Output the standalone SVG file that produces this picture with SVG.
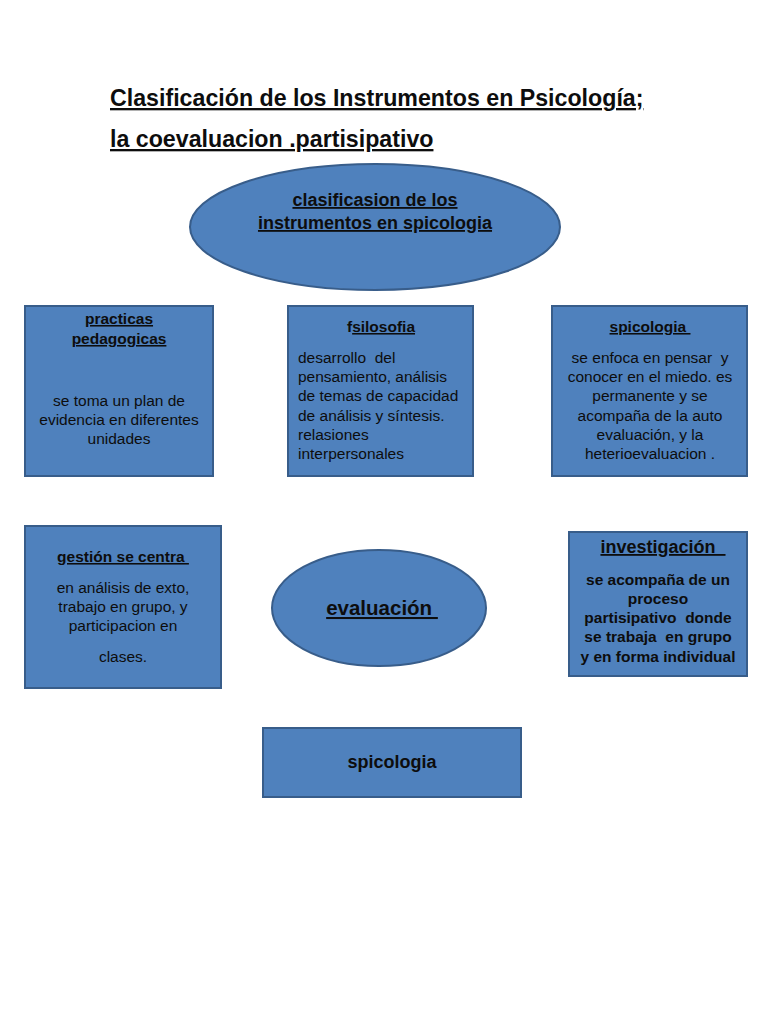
<svg xmlns="http://www.w3.org/2000/svg" width="768" height="1024" viewBox="0 0 768 1024">
<style>
  .shape { fill: #4f81bd; stroke: #385d8a; stroke-width: 2; }
  text { font-family: "Liberation Sans", Arial, sans-serif; fill: #0d0d0d; }
  .b { font-weight: bold; }
  .u { text-decoration: underline; }
  .c { text-anchor: middle; }
  .t15 { font-size: 15.5px; }
  .pre { white-space: pre; }
</style>
<rect width="768" height="1024" fill="#ffffff"/>
<g id="title">
  <text x="110" y="106" class="b u" font-size="23.2">Clasificación de los Instrumentos en Psicología;</text>
  <text x="110" y="147" class="b u" font-size="23.2">la coevaluacion .partisipativo</text>
</g>
<g id="node-clasificasion">
  <ellipse class="shape" cx="375" cy="227" rx="185" ry="63"/>
  <text x="375" y="206" class="b u c" font-size="18">clasificasion de los</text>
  <text x="375" y="229" class="b u c" font-size="18">instrumentos en spicologia</text>
</g>
<g id="node-practicas">
  <rect class="shape" x="25" y="306" width="188" height="170"/>
  <text x="119" y="324" class="b u c t15">practicas</text>
  <text x="119" y="344" class="b u c t15">pedagogicas</text>
  <text x="119" y="406" class="c t15">se toma un plan de</text>
  <text x="119" y="425" class="c t15">evidencia en diferentes</text>
  <text x="119" y="444" class="c t15">unidades</text>
</g>
<g id="node-fsilosofia">
  <rect class="shape" x="288" y="306" width="185" height="170"/>
  <text x="381" y="332" class="b c t15">f<tspan class="u">silosofia</tspan></text>
  <text x="298" y="363" class="t15 pre">desarrollo  del</text>
  <text x="298" y="382" class="t15">pensamiento, análisis</text>
  <text x="298" y="401" class="t15">de temas de capacidad</text>
  <text x="298" y="421" class="t15">de análisis y síntesis.</text>
  <text x="298" y="440" class="t15">relasiones</text>
  <text x="298" y="459" class="t15">interpersonales</text>
</g>
<g id="node-spicologia-top">
  <rect class="shape" x="552" y="306" width="195" height="170"/>
  <text x="650" y="332" class="b u c t15 pre">spicologia </text>
  <text x="650" y="363" class="c t15 pre">se enfoca en pensar  y</text>
  <text x="650" y="382" class="c t15">conocer en el miedo. es</text>
  <text x="650" y="401" class="c t15">permanente y se</text>
  <text x="650" y="421" class="c t15">acompaña de la auto</text>
  <text x="650" y="440" class="c t15">evaluación, y la</text>
  <text x="650" y="459" class="c t15">heterioevaluacion .</text>
</g>
<g id="node-gestion">
  <rect class="shape" x="25" y="526" width="196" height="162"/>
  <text x="123" y="562" class="b u c t15 pre">gestión se centra </text>
  <text x="123" y="593" class="c t15">en análisis de exto,</text>
  <text x="123" y="612" class="c t15">trabajo en grupo, y</text>
  <text x="123" y="631" class="c t15">participacion en</text>
  <text x="123" y="662" class="c t15">clases.</text>
</g>
<g id="node-evaluacion">
  <ellipse class="shape" cx="379" cy="608" rx="107" ry="58"/>
  <text x="382" y="615" class="b u c pre" font-size="20.5">evaluación </text>
</g>
<g id="node-investigacion">
  <rect class="shape" x="569" y="532" width="178" height="144"/>
  <text x="663" y="553" class="b u c pre" font-size="18">investigación  </text>
  <text x="658" y="585" class="b c t15">se acompaña de un</text>
  <text x="658" y="604" class="b c t15">proceso</text>
  <text x="658" y="623" class="b c t15 pre">partisipativo  donde</text>
  <text x="658" y="642" class="b c t15 pre">se trabaja  en grupo</text>
  <text x="658" y="662" class="b c t15">y en forma individual</text>
</g>
<g id="node-spicologia-bottom">
  <rect class="shape" x="263" y="728" width="258" height="69"/>
  <text x="392" y="768" class="b c" font-size="18">spicologia</text>
</g>
<g id="connectors"></g>
</svg>
